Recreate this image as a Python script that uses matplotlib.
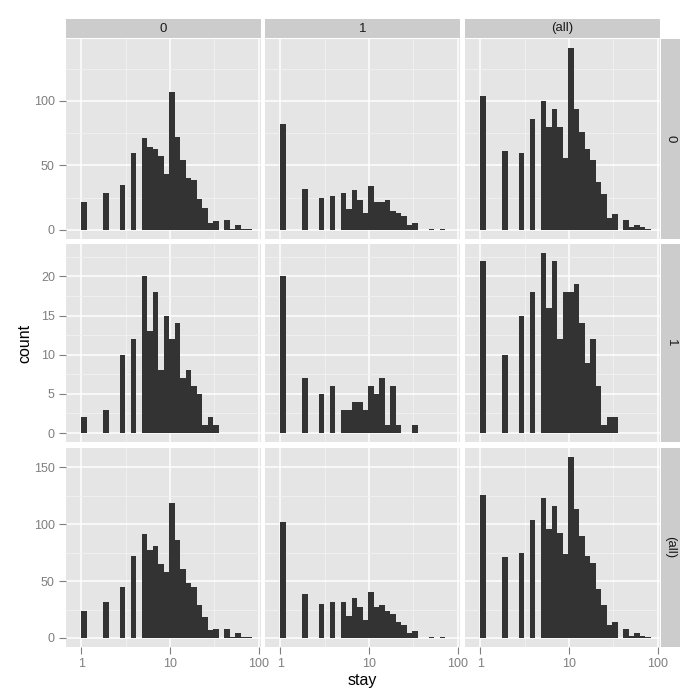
import numpy as np
import matplotlib

matplotlib.use("Agg")
import matplotlib.pyplot as plt
from matplotlib.ticker import FixedLocator, FixedFormatter, NullFormatter

plt.rcParams["font.family"] = ["Liberation Sans", "DejaVu Sans"]

# histogram bins on log10(stay); bin k spans [k*BINW, (k+1)*BINW]
BINW = 0.062
BINS = [0, 4, 7, 9, 11, 12, 13, 14, 15, 16, 17, 18, 19, 20, 21, 22, 23, 24,
        25, 26, 27, 28, 29, 30]

# counts, facet rows/cols "0" and "1"
r0_c0 = [22, 29, 35, 60, 71, 64, 63, 57, 43, 107, 72, 54, 40, 39, 24, 17, 5, 7,
         0, 8, 1, 4, 1, 1]
r0_c1 = [82, 32, 25, 26, 29, 16, 31, 23, 13, 34, 22, 22, 23, 15, 13, 11, 4, 5,
         0, 0, 1, 0, 1, 0]
r1_c0 = [2, 3, 10, 12, 20, 13, 18, 8, 15, 12, 14, 7, 8, 6, 5, 1, 2, 1,
         0, 0, 0, 0, 0, 0]
r1_c1 = [20, 7, 5, 6, 3, 3, 4, 4, 3, 6, 5, 7, 1, 6, 1, 0, 0, 1,
         0, 0, 0, 0, 0, 0]

row_labels = ["0", "1", "(all)"]
col_labels = ["0", "1", "(all)"]
row_yticks = [[0, 50, 100], [0, 5, 10, 15, 20], [0, 50, 100, 150]]
x_ticks = [1, 10, 100]

# margins "(all)" are sums of the cells
base = np.array([[r0_c0, r0_c1], [r1_c0, r1_c1]], dtype=float)
grid = np.zeros((3, 3, len(BINS)))
grid[:2, :2] = base
grid[:2, 2] = base.sum(axis=1)
grid[2, :2] = base.sum(axis=0)
grid[2, 2] = base.sum(axis=(0, 1))

lo = 10 ** (np.array(BINS) * BINW)
hi = 10 ** ((np.array(BINS) + 1) * BINW)

W = H = 700.0
col_left = [66, 265, 465]
col_w = 195
row_top = [39, 244, 448]
row_h = [200, 198, 199]

PANEL = "#e5e5e5"
STRIP = "#cccccc"
BAR = "#333333"
TXT = "#7f7f7f"

fig = plt.figure(figsize=(7, 7), dpi=100)

for r in range(3):
    ymax = grid[r].max()
    for c in range(3):
        ax = fig.add_axes([col_left[c] / W, 1 - (row_top[r] + row_h[r]) / H,
                           col_w / W, row_h[r] / H])
        ax.set_facecolor(PANEL)
        ax.set_xscale("log")
        ax.set_xlim(10 ** -0.17, 10 ** 2.025)
        ax.set_ylim(-0.05 * ymax, 1.05 * ymax)
        yt = row_yticks[r]
        ax.yaxis.set_major_locator(FixedLocator(yt))
        step = yt[1] - yt[0]
        ax.yaxis.set_minor_locator(FixedLocator([v + step / 2 for v in yt]))
        ax.xaxis.set_major_locator(FixedLocator(x_ticks))
        ax.xaxis.set_minor_locator(FixedLocator([10 ** 0.5, 10 ** 1.5]))
        ax.xaxis.set_minor_formatter(NullFormatter())
        ax.grid(which="major", color="white", linewidth=1.1)
        ax.grid(which="minor", color="#f2f2f2", linewidth=0.6)
        ax.set_axisbelow(True)
        for s in ax.spines.values():
            s.set_visible(False)
        ax.bar(lo, grid[r, c], width=hi - lo, align="edge", color=BAR,
               linewidth=0)
        ax.tick_params(which="minor", length=0)
        ax.tick_params(which="major", length=5, width=0.8, color=TXT,
                       labelcolor=TXT, labelsize=9, pad=3)
        if c == 0:
            ax.yaxis.set_major_formatter(FixedFormatter([str(v) for v in yt]))
        else:
            ax.tick_params(axis="y", which="major", length=0, labelleft=False)
        if r == 2:
            ax.xaxis.set_major_formatter(FixedFormatter([str(v) for v in x_ticks]))
        else:
            ax.tick_params(axis="x", which="major", length=0, labelbottom=False)

        if r == 0:
            sx = fig.add_axes([col_left[c] / W, 1 - 38 / H, col_w / W, 19 / H])
            sx.set_facecolor(STRIP)
            sx.set_xticks([])
            sx.set_yticks([])
            for s in sx.spines.values():
                s.set_visible(False)
            sx.text(0.5, 0.5, col_labels[c], ha="center", va="center",
                    fontsize=9.5, color="#1a1a1a")
        if c == 2:
            sy = fig.add_axes([661 / W, 1 - (row_top[r] + row_h[r]) / H,
                               19 / W, row_h[r] / H])
            sy.set_facecolor(STRIP)
            sy.set_xticks([])
            sy.set_yticks([])
            for s in sy.spines.values():
                s.set_visible(False)
            sy.text(0.5, 0.5, row_labels[r], ha="center", va="center",
                    rotation=-90, fontsize=9.5, color="#1a1a1a")

fig.text(362 / W, 1 - 680 / H, "stay", ha="center", va="center", fontsize=11.5)
fig.text(25 / W, 1 - 343 / H, "count", ha="center", va="center",
         rotation=90, fontsize=11.5)

fig.savefig("out.png", dpi=100)
